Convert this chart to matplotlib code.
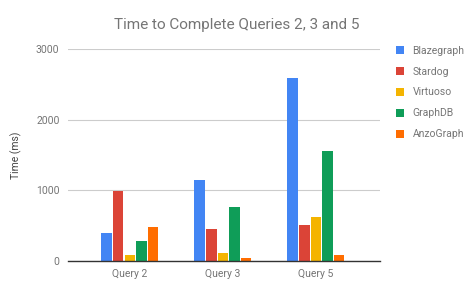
import numpy as np
import matplotlib
matplotlib.use("Agg")
import matplotlib.pyplot as plt

queries = ["Query 2", "Query 3", "Query 5"]
systems = ["Blazegraph", "Stardog", "Virtuoso", "GraphDB", "AnzoGraph"]
blazegraph = [390, 1140, 2590]
stardog = [990, 450, 510]
virtuoso = [90, 115, 625]
graphdb = [285, 765, 1555]
anzograph = [485, 45, 90]
colors = ["#4285F4", "#DB4437", "#F4B400", "#0F9D58", "#FF6D00"]

plt.rcParams["font.family"] = ["Roboto", "DejaVu Sans"]
grey = "#757575"

fig = plt.figure(figsize=(4.74, 2.93), dpi=100)
ax = fig.add_axes([0.143, 0.109, 0.659, 0.724])

x = np.arange(len(queries))
step, width = 0.125, 0.113
series = [blazegraph, stardog, virtuoso, graphdb, anzograph]
for i, (name, vals) in enumerate(zip(systems, series)):
    ax.bar(x + (i - 2) * step, vals, width, color=colors[i], label=name, zorder=3)

ax.set_xlim(-0.667, 2.69)
ax.set_ylim(0, 3000)
ax.set_yticks([0, 1000, 2000, 3000])
ax.set_xticks(x)
ax.set_xticklabels(queries)
ax.grid(axis="y", color="#cccccc", lw=0.8, zorder=0)
for s in ["top", "right", "left"]:
    ax.spines[s].set_visible(False)
ax.spines["bottom"].set_color("#333333")
ax.spines["bottom"].set_linewidth(1.0)
ax.spines["bottom"].set_zorder(4)
ax.tick_params(length=0, labelsize=7.5, colors=grey, pad=6)
ax.set_ylabel("Time (ms)", fontsize=7.5, color="#444444", labelpad=10)

fig.suptitle("Time to Complete Queries 2, 3 and 5", fontsize=11, color=grey,
             x=0.5, y=0.94)

ax.legend(loc="upper left", bbox_to_anchor=(1.02, 1.06), frameon=False,
          fontsize=7.5, labelcolor=grey, handlelength=0.8, handleheight=0.8,
          labelspacing=1.05, handletextpad=0.8)

fig.savefig("out.png", dpi=100)
